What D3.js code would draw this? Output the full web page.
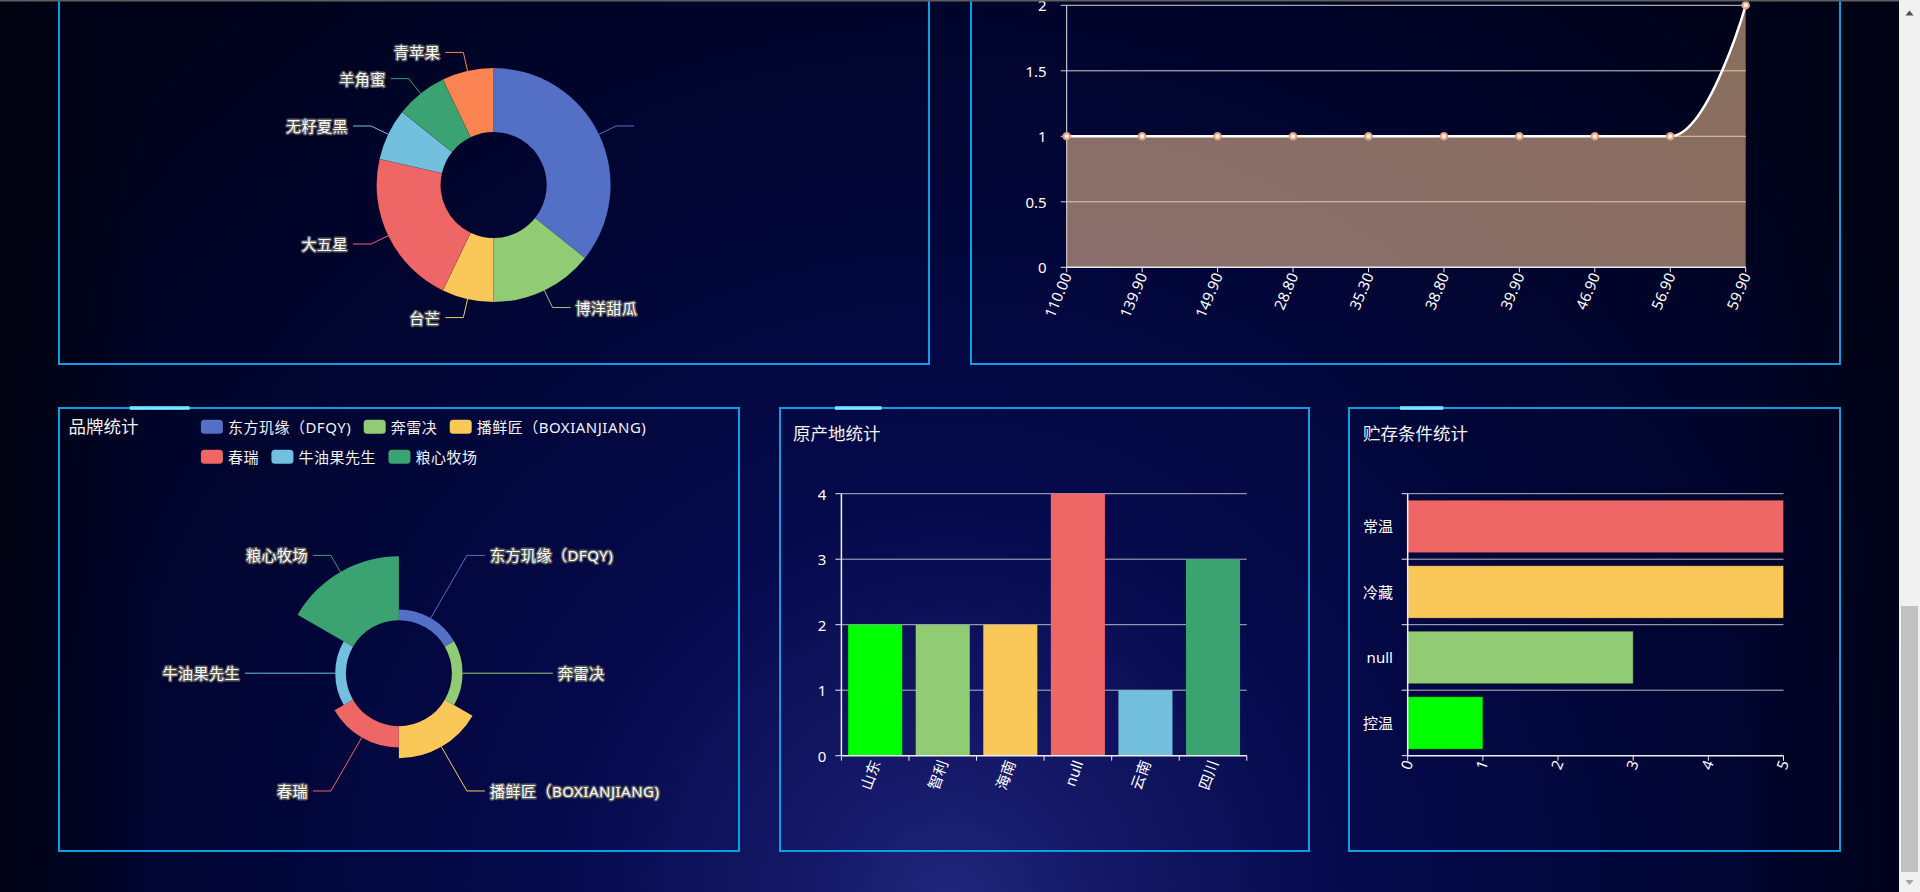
<!DOCTYPE html>
<html><head><meta charset="utf-8">
<script src="https://cdn.jsdelivr.net/npm/d3@7"></script>
<style>
html,body{margin:0;padding:0;overflow:hidden;background:#000418;}
svg{display:block;}
text{font-family:"Noto Sans","Noto Sans CJK SC",sans-serif;}
</style></head><body>
<svg id="c" width="1920" height="892"></svg>
<script>
// ---------- data ----------
const fruitNames = ["", "博洋甜瓜", "台芒", "大五星", "无籽夏黑", "羊角蜜", "青苹果"];
const fruitCounts = [5, 2, 1, 3, 1, 1, 1];

const priceLabels = ["110.00","139.90","149.90","28.80","35.30","38.80","39.90","46.90","56.90","59.90"];
const priceCounts = [1,1,1,1,1,1,1,1,1,2];
const priceTicks = [0, 0.5, 1, 1.5, 2];

const brandTitle = "品牌统计";
const brandNames = ["东方玑缘（DFQY)","奔雷决","播鲜匠（BOXIANJIANG)","春瑞","牛油果先生","粮心牧场"];
const brandCounts = [1, 1, 3, 2, 1, 6];

const originTitle = "原产地统计";
const originNames = ["山东","智利","海南","null","云南","四川"];
const originCounts = [2, 2, 2, 4, 1, 3];
const originTicks = [0, 1, 2, 3, 4];

const storageTitle = "贮存条件统计";
const storageNames = ["控温","null","冷藏","常温"];
const storageCounts = [1, 3, 5, 5];
const storageTicks = [0, 1, 2, 3, 4, 5];

const palette = ["#5470c6","#91cc75","#fac858","#ee6666","#73c0de","#3ba272","#fc8452"];
const barColors = ["#00ff00","#91cc75","#fac858","#ee6666","#73c0de","#3ba272"];

// ---------- setup ----------
const svg = d3.select("#c");
const defs = svg.append("defs");
const rg = defs.append("radialGradient").attr("id","bg").attr("gradientUnits","userSpaceOnUse")
  .attr("cx",950).attr("cy",905).attr("r",1150);
[[0,"#22267c"],[0.12,"#151968"],[0.35,"#050a4c"],[0.6,"#010638"],[0.85,"#000427"],[1,"#00031a"]]
  .forEach(([o,c])=>rg.append("stop").attr("offset",o).attr("stop-color",c));
svg.append("rect").attr("width",1920).attr("height",892).attr("fill","url(#bg)");
const lg = defs.append("linearGradient").attr("id","edge").attr("x1",0).attr("x2",1).attr("y1",0).attr("y2",0);
[[0,"rgba(0,2,12,0.75)"],[0.08,"rgba(0,2,12,0)"],[0.9,"rgba(0,2,12,0)"],[1,"rgba(0,2,12,0.6)"]]
  .forEach(([o,c])=>lg.append("stop").attr("offset",o).attr("stop-color",c));
svg.append("rect").attr("width",1920).attr("height",892).attr("fill","url(#edge)");

// panels
const panels = [
  {x:59, y:-60, w:870, h:424},
  {x:971, y:-60, w:869, h:424},
  {x:59, y:408, w:680, h:443},
  {x:780, y:408, w:529, h:443},
  {x:1349, y:408, w:491, h:443}
];
const pg = svg.append("g");
panels.forEach(p=>{
  pg.append("rect").attr("x",p.x).attr("y",p.y).attr("width",p.w).attr("height",p.h)
    .attr("fill","none").attr("stroke","#0a9fe2").attr("stroke-width",2);
  pg.append("rect").attr("x",p.x+p.w*0.104).attr("y",p.y-2).attr("width",p.w*0.088).attr("height",4)
    .attr("fill","#4cc6ee");
  pg.append("rect").attr("x",p.x+p.w*0.104).attr("y",p.y-0.5).attr("width",p.w*0.088).attr("height",1.2)
    .attr("fill","#b8ecfb");
});

function title(x, y, t){
  svg.append("text").attr("x",x).attr("y",y).attr("dominant-baseline","central")
    .attr("fill","#f2f2f2").attr("font-size",17.5).text(t);
}
title(68.5, 425.7, brandTitle);
title(793, 433.3, originTitle);
title(1363, 433.3, storageTitle);

// pie label helper (echarts-like outside label)
function pieLabel(g, cx, cy, ang, rEdge, rLine, len2, txt, color){
  const sx = Math.sin(ang), sy = -Math.cos(ang);
  const right = sx >= -1e-6;
  const p0 = [cx+sx*rEdge, cy+sy*rEdge];
  const p1 = [cx+sx*rLine, cy+sy*rLine];
  const p2 = [p1[0]+(right?len2:-len2), p1[1]];
  g.append("polyline").attr("points",[p0,p1,p2].map(p=>p.join(",")).join(" "))
    .attr("fill","none").attr("stroke",color).attr("stroke-width",1);
  g.append("text").attr("x",p2[0]+(right?5:-5)).attr("y",p2[1]).attr("dominant-baseline","central")
    .attr("text-anchor",right?"start":"end").attr("font-size",15).attr("letter-spacing",0.5)
    .attr("fill","#fff")
    .attr("stroke","#5b5b5b").attr("stroke-width",3).attr("stroke-linejoin","round")
    .attr("paint-order","stroke").text(txt);
}

// ---------- chart 1 : donut ----------
{
  const cx = 493.6, cy = 185, r0 = 53, r1 = 117;
  const g = svg.append("g");
  const arcs = d3.pie().sort(null).value(d=>d)(fruitCounts);
  const arc = d3.arc().innerRadius(r0).outerRadius(r1);
  g.selectAll("path").data(arcs).join("path")
    .attr("transform",`translate(${cx},${cy})`).attr("d",arc)
    .attr("fill",(d,i)=>palette[i]).attr("stroke","rgba(0,0,0,0.12)").attr("stroke-width",0.6);
  arcs.forEach((d,i)=>pieLabel(g,cx,cy,(d.startAngle+d.endAngle)/2,r1,r1+19,18,fruitNames[i],palette[i]));
}

// ---------- chart 2 : smooth area ----------
{
  const g = svg.append("g");
  const x = d3.scalePoint().domain(priceLabels).range([1066.7, 1745.7]);
  const y = d3.scaleLinear().domain([0,2]).range([267.3, 5.3]);
  g.selectAll(".gl").data(priceTicks.filter(t=>t>0)).join("line")
    .attr("x1",1060.7).attr("x2",1745.7).attr("y1",d=>y(d)).attr("y2",d=>y(d))
    .attr("stroke","#cfcfcf").attr("stroke-width",1);
  g.append("line").attr("x1",1066.7).attr("x2",1066.7).attr("y1",y(0)).attr("y2",y(2))
    .attr("stroke","#e8e8e8").attr("stroke-width",1);
  g.selectAll(".yl").data(priceTicks).join("text")
    .attr("x",1046.7).attr("y",d=>y(d)).attr("text-anchor","end").attr("dominant-baseline","central")
    .attr("fill","#fff").attr("font-size",15).text(d=>d);
  g.append("line").attr("x1",1060.7).attr("x2",1066.7).attr("y1",y(0)).attr("y2",y(0))
    .attr("stroke","#e8e8e8");
  // echarts-like smooth path (smoothMonotone x)
  const pts = priceLabels.map((c,i)=>[x(c), y(priceCounts[i])]);
  function smoothPath(p, s){
    let d = `M${p[0][0]},${p[0][1]}`;
    let cx0 = p[0][0], cy0 = p[0][1];
    for(let k=1;k<p.length;k++){
      const [px,py] = p[k-1], [cx,cy] = p[k];
      let ax, ay, bx, by;
      if(k===p.length-1){ ax=cx; ay=cy; bx=cx; by=cy; }
      else { const nx = p[k+1][0]; ax = cx - Math.abs(cx-px)*s; ay = cy; bx = cx + Math.abs(nx-cx)*s; by = cy; }
      d += `C${cx0},${cy0},${ax},${ay},${cx},${cy}`;
      cx0 = bx; cy0 = by;
    }
    return d;
  }
  const lineD = smoothPath(pts, 0.5);
  g.append("path").attr("d", lineD + `L${pts[pts.length-1][0]},${y(0)}L${pts[0][0]},${y(0)}Z`)
    .attr("fill","rgba(250,196,150,0.55)");
  g.append("line").attr("x1",1066.7).attr("x2",1745.7).attr("y1",y(0)).attr("y2",y(0))
    .attr("stroke","#e8e8e8").attr("stroke-width",1.5);
  g.selectAll(".xt").data(priceLabels).join("line")
    .attr("x1",d=>x(d)).attr("x2",d=>x(d)).attr("y1",y(0)).attr("y2",y(0)+5).attr("stroke","#e8e8e8");
  g.selectAll(".xl").data(priceLabels).join("text")
    .attr("transform",d=>`translate(${x(d)},${y(0)+6}) rotate(-67)`)
    .attr("text-anchor","end").attr("dominant-baseline","central")
    .attr("fill","#fff").attr("font-size",15).text(d=>d);
  g.append("path").attr("d",lineD).attr("fill","none").attr("stroke","#fff").attr("stroke-width",2.5);
  g.selectAll("circle").data(pts).join("circle").attr("cx",d=>d[0]).attr("cy",d=>d[1]).attr("r",3.3)
    .attr("fill","#f7ece4").attr("stroke","#dca17c").attr("stroke-width",2);
}

// ---------- chart 3 : rose ----------
{
  const g = svg.append("g");
  const cx = 398.9, cy = 673.2, r0 = 53, r1 = 117;
  const rad = d3.scaleLinear().domain([0, d3.max(brandCounts)]).range([r0, r1]);
  const arcs = d3.pie().sort(null).value(()=>1)(brandCounts);
  const arc = d3.arc().innerRadius(r0).outerRadius(d=>rad(d.data));
  g.selectAll("path").data(arcs).join("path").attr("transform",`translate(${cx},${cy})`)
    .attr("d",arc).attr("fill",(d,i)=>palette[i]);
  arcs.forEach((d,i)=>pieLabel(g,cx,cy,(d.startAngle+d.endAngle)/2,rad(d.data),r1+19,18,brandNames[i],palette[i]));
  // legend
  const lgG = svg.append("g");
  let lx = 200.9, ly = 426.7;
  brandNames.forEach((n,i)=>{
    const t = lgG.append("text").attr("x",0).attr("y",ly).attr("dominant-baseline","central")
      .attr("font-size",15).attr("letter-spacing",0.5).attr("fill","#f2f2f2").text(n);
    const w = 22 + 5 + t.node().getComputedTextLength();
    if(lx + w > 700){ lx = 200.9; ly += 30; t.attr("y",ly); }
    lgG.append("rect").attr("x",lx).attr("y",ly-7).attr("width",22).attr("height",14).attr("rx",3.5)
      .attr("fill",palette[i]);
    t.attr("x",lx+27);
    lx += w + 12.5;
  });
}

// ---------- chart 4 : vertical bars ----------
{
  const g = svg.append("g");
  const x0 = 841.4, x1 = 1246.8;
  const x = d3.scaleBand().domain(originNames).range([x0, x1]).paddingInner(0.2).paddingOuter(0.1);
  const y = d3.scaleLinear().domain([0,4]).range([755.7, 493.7]);
  g.selectAll(".gl").data(originTicks.filter(t=>t>0)).join("line")
    .attr("x1",x0).attr("x2",x1).attr("y1",d=>y(d)).attr("y2",d=>y(d)).attr("stroke","#b4b4c4");
  g.selectAll(".tk").data(originTicks).join("line")
    .attr("x1",x0-6).attr("x2",x0).attr("y1",d=>y(d)).attr("y2",d=>y(d)).attr("stroke","#e8e8e8");
  g.selectAll(".yl").data(originTicks).join("text")
    .attr("x",826.4).attr("y",d=>y(d)).attr("text-anchor","end").attr("dominant-baseline","central")
    .attr("fill","#fff").attr("font-size",15).text(d=>d);
  g.selectAll("rect").data(originNames).join("rect")
    .attr("x",d=>x(d)).attr("width",x.bandwidth())
    .attr("y",(d,i)=>y(originCounts[i])).attr("height",(d,i)=>y(0)-y(originCounts[i]))
    .attr("fill",(d,i)=>barColors[i]);
  g.append("line").attr("x1",x0).attr("x2",x0).attr("y1",y(0)).attr("y2",y(4)).attr("stroke","#eee").attr("stroke-width",1.5);
  g.append("line").attr("x1",x0).attr("x2",x1).attr("y1",y(0)).attr("y2",y(0)).attr("stroke","#eee").attr("stroke-width",1.5);
  const bounds = d3.range(originNames.length+1).map(i=>x0 + i*x.step());
  g.selectAll(".xt").data(bounds).join("line")
    .attr("x1",d=>d).attr("x2",d=>d).attr("y1",y(0)).attr("y2",y(0)+5).attr("stroke","#eee");
  g.selectAll(".xl").data(originNames).join("text")
    .attr("transform",d=>`translate(${x(d)+x.bandwidth()/2},${y(0)+5}) rotate(-70)`)
    .attr("text-anchor","end").attr("dominant-baseline","central")
    .attr("fill","#fff").attr("font-size",15).text(d=>d);
}

// ---------- chart 5 : horizontal bars ----------
{
  const g = svg.append("g");
  const y = d3.scaleBand().domain(storageNames).range([755.7, 493.7]).paddingInner(0.2).paddingOuter(0.1);
  const x = d3.scaleLinear().domain([0,5]).range([1407.7, 1783.5]);
  const bounds = d3.range(storageNames.length+1).map(i=>493.7 + i*y.step());
  g.selectAll(".gl").data(bounds.slice(0,-1)).join("line")
    .attr("x1",x(0)).attr("x2",x(5)).attr("y1",d=>d).attr("y2",d=>d).attr("stroke","#b8b8c0");
  g.selectAll(".tk").data(bounds).join("line")
    .attr("x1",x(0)-6).attr("x2",x(0)).attr("y1",d=>d).attr("y2",d=>d).attr("stroke","#e8e8e8");
  g.selectAll("rect").data(storageNames).join("rect")
    .attr("x",x(0)).attr("y",d=>y(d)).attr("height",y.bandwidth())
    .attr("width",(d,i)=>x(storageCounts[i])-x(0))
    .attr("fill",(d,i)=>barColors[i]).attr("stroke","rgba(0,0,0,0.3)").attr("stroke-width",1);
  g.selectAll(".yl").data(storageNames).join("text")
    .attr("x",1392.9).attr("y",d=>y(d)+y.bandwidth()/2).attr("text-anchor","end").attr("dominant-baseline","central")
    .attr("fill","#fff").attr("font-size",15).text(d=>d);
  g.append("line").attr("x1",x(0)).attr("x2",x(0)).attr("y1",755.7).attr("y2",493.7).attr("stroke","#eee").attr("stroke-width",1.5);
  g.append("line").attr("x1",x(0)).attr("x2",x(5)).attr("y1",755.7).attr("y2",755.7).attr("stroke","#eee").attr("stroke-width",1.5);
  g.selectAll(".xt").data(storageTicks).join("line")
    .attr("x1",d=>x(d)).attr("x2",d=>x(d)).attr("y1",755.7).attr("y2",760.7).attr("stroke","#eee");
  g.selectAll(".xl").data(storageTicks).join("text")
    .attr("transform",d=>`translate(${x(d)},${760.5}) rotate(-70)`)
    .attr("text-anchor","end").attr("dominant-baseline","central")
    .attr("fill","#fff").attr("font-size",15).text(d=>d);
}

// ---------- browser chrome (scrollbar, top line) ----------
svg.append("rect").attr("x",0).attr("y",0).attr("width",1899).attr("height",1.5).attr("fill","#5e5e5e");
svg.append("rect").attr("x",1899).attr("y",0).attr("width",21).attr("height",892).attr("fill","#f1f1f1");
svg.append("rect").attr("x",1901).attr("y",606).attr("width",17).attr("height",266).attr("fill","#c1c1c1");
svg.append("path").attr("d","M1905.5,15.5L1909.5,10.5L1913.5,15.5Z").attr("fill","#505050");
svg.append("path").attr("d","M1905.5,880L1909.5,885L1913.5,880Z").attr("fill","#a3a3a3");
</script>
</body></html>
